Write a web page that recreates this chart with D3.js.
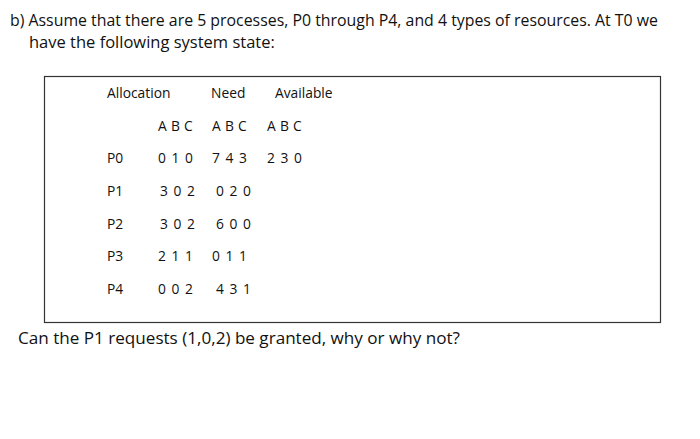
<!DOCTYPE html>
<html>
<head>
<meta charset="UTF-8" />
<script src="https://d3js.org/d3.v7.min.js"></script>
<style>
  body { margin: 0; background: #fff; }
</style>
</head>
<body>
<div id="chart"></div>
<script>
  const processes = ["P0", "P1", "P2", "P3", "P4"];
  const allocation = ["0 1 0", "3 0 2", "3 0 2", "2 1 1", "0 0 2"];
  const need = ["7 4 3", "0 2 0", "6 0 0", "0 1 1", "4 3 1"];
  const available = ["2 3 0", "", "", "", ""];
  const headers = ["Allocation", "Need", "Available"];
  const subHeaders = ["A B C", "A B C", "A B C"];

  const width = 700, height = 439;
  const svg = d3.select("#chart").append("svg")
    .attr("width", width).attr("height", height);

  // question text
  const q = svg.append("g")
    .style("font-family", "'Open Sans', sans-serif")
    .style("font-size", "16.5px")
    .attr("fill", "#111");
  q.append("text").attr("x", 10).attr("y", 26)
    .attr("textLength", 648).attr("lengthAdjust", "spacingAndGlyphs")
    .text("b)  Assume that there are 5 processes, P0 through P4, and 4 types of resources. At T0 we");
  q.append("text").attr("x", 29).attr("y", 48)
    .text("have the following system state:");
  q.append("text").attr("x", 18).attr("y", 344)
    .attr("textLength", 442).attr("lengthAdjust", "spacingAndGlyphs")
    .text("Can the P1 requests (1,0,2) be granted, why or why not?");

  // table box
  svg.append("rect").attr("x", 44.5).attr("y", 76.5)
    .attr("width", 616).attr("height", 246)
    .attr("fill", "none").attr("stroke", "#333").attr("stroke-width", 1.2);

  const y = d3.scalePoint().domain(["hdr", "sub", ...processes])
    .range([98, 294]);

  const t = svg.append("g")
    .style("font-family", "'Open Sans', sans-serif")
    .style("font-size", "13.8px")
    .attr("fill", "#111");

  const headerX = [107, 211, 275];
  headers.forEach((h, i) => t.append("text").attr("x", headerX[i]).attr("y", y("hdr")).text(h));

  const colX = [158, 212, 267];
  subHeaders.forEach((h, i) => t.append("text").attr("x", colX[i]).attr("y", y("sub"))
    .attr("letter-spacing", "0.3px").text(h));

  // small per-row shifts as in the source layout
  const allocShift = [0, 2, 2, 0, 0];
  const needShift = [0, 4, 4, 0, 4];

  processes.forEach((p, i) => {
    const yy = y(p);
    t.append("text").attr("x", 107).attr("y", yy).text(p);
    t.append("text").attr("x", colX[0] + allocShift[i]).attr("y", yy)
      .attr("letter-spacing", "1px").text(allocation[i]);
    t.append("text").attr("x", colX[1] + needShift[i]).attr("y", yy)
      .attr("letter-spacing", "1px").text(need[i]);
    if (available[i]) t.append("text").attr("x", colX[2]).attr("y", yy)
      .attr("letter-spacing", "1px").text(available[i]);
  });
</script>
</body>
</html>
